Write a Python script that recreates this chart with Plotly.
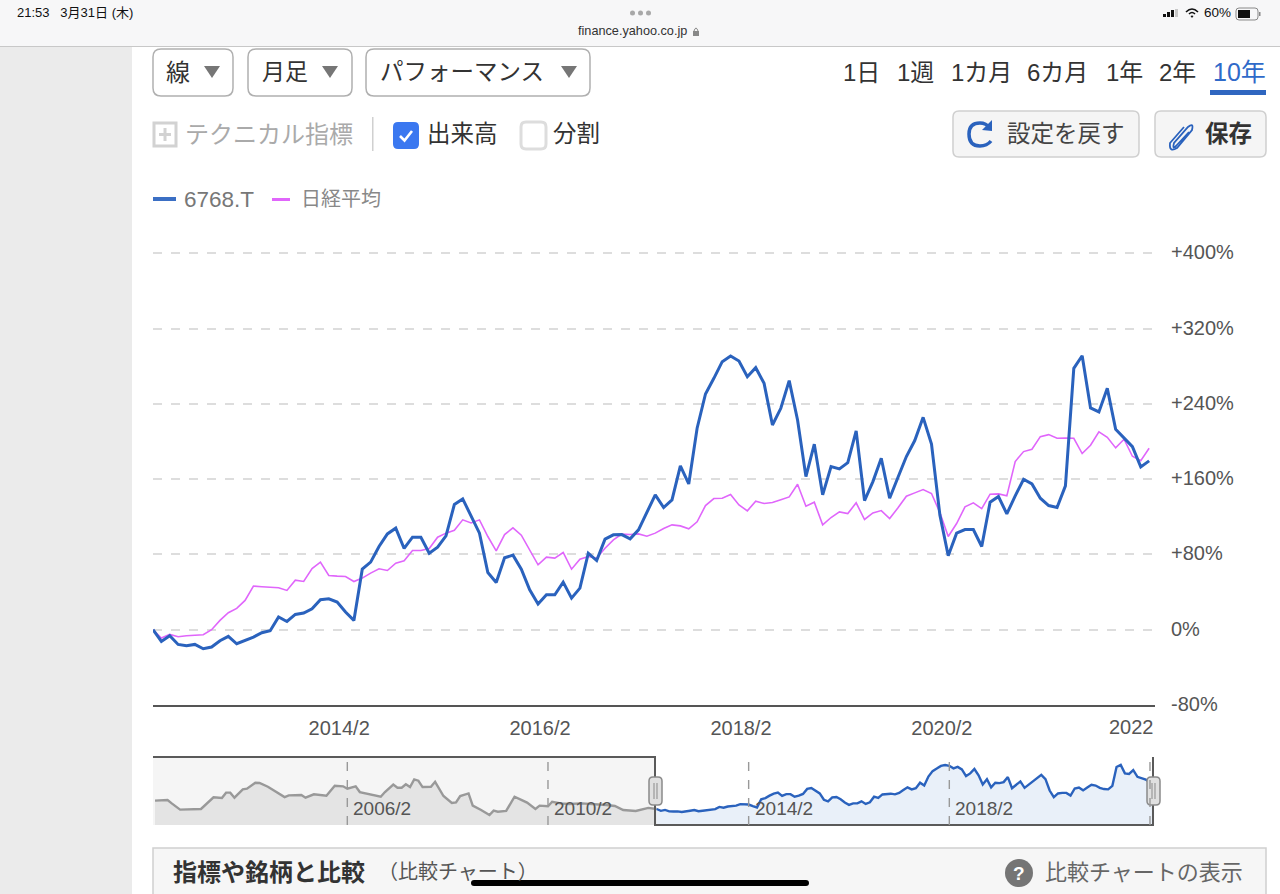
import pandas as pd
import plotly.graph_objects as go

W, H = 1280, 894
JP = "Liberation Sans, Noto Sans CJK JP, sans-serif"

# monthly performance (%), 2012/4 - 2022/3
months = [f"{d.year}/{d.month}" for d in pd.date_range("2012-04-01", periods=120, freq="MS")]
stock_6768 = [0, -12.4, -6.4, -15.6, -17.0, -15.6, -20.2, -18.4, -11.7, -7.1,
              -14.9, -11.3, -7.8, -3.2, -1.1, 13.5, 8.8, 16.3, 17.7, 22.3,
              31.9, 32.9, 29.4, 18.8, 9.9, 64.4, 71.9, 88.5, 101.9, 108.0,
              86.4, 98.4, 98.4, 81.4, 87.8, 99.8, 133.1, 139.1, 121.4, 102.7,
              60.9, 50.3, 76.5, 79.3, 64.4, 42.5, 27.3, 37.2, 37.2, 50.6,
              33.6, 44.2, 81.4, 73.6, 96.3, 100.9, 101.2, 96.6, 106.2, 125.0,
              143.4, 129.9, 138.1, 174.2, 155.0, 214.2, 250.6, 267.3, 285.0, 291.0,
              285.7, 269.0, 278.6, 261.9, 217.7, 235.4, 264.8, 223.0, 162.8, 197.2,
              143.4, 173.5, 171.0, 177.7, 211.3, 137.3, 157.5, 182.3, 139.8, 162.1,
              184.1, 201.1, 225.8, 197.5, 122.1, 78.6, 102.7, 106.5, 106.5, 88.5,
              135.6, 141.6, 123.2, 142.3, 160.0, 155.0, 139.8, 132.0, 129.9, 152.9,
              277.9, 291.3, 235.8, 231.5, 256.6, 213.1, 203.9, 194.7, 173.1, 179.5]
nikkei = [0, -8.8, -5.0, -7.4, -6.4, -6.0, -5.3, 0, 9.9, 18.1,
          22.7, 31.2, 46.4, 45.7, 45.0, 44.6, 41.8, 52.7, 51.3, 65.1,
          71.9, 57.7, 57.0, 56.6, 51.3, 54.9, 60.2, 64.8, 63.0, 70.8,
          73.3, 84.2, 84.2, 86.4, 98.4, 102.7, 105.8, 116.8, 113.6, 116.8,
          99.1, 83.9, 101.2, 108.3, 100.5, 85.0, 69.0, 77.2, 76.1, 82.1,
          64.4, 75.0, 77.9, 76.1, 86.7, 95.6, 101.6, 101.2, 101.9, 99.5,
          102.7, 107.6, 111.5, 110.4, 107.3, 114.7, 132.0, 139.5, 139.8, 143.7,
          132.7, 126.4, 136.6, 134.2, 135.2, 138.1, 141.2, 154.7, 131.3, 135.6,
          111.5, 119.3, 125.3, 123.5, 134.9, 117.2, 124.2, 126.7, 118.2, 129.6,
          141.9, 145.5, 149.0, 144.8, 124.6, 99.1, 112.9, 130.6, 134.9, 128.8,
          144.1, 144.4, 142.3, 178.8, 189.4, 191.9, 205.3, 207.4, 203.5, 203.9,
          203.5, 187.3, 196.1, 210.3, 204.6, 193.3, 202.5, 184.4, 179.8, 192.9]
y_ticks = [-80, 0, 80, 160, 240, 320, 400]
y_labels = ["-80%", "0%", "+80%", "+160%", "+240%", "+320%", "+400%"]
x_ticks = ["2014/2", "2016/2", "2018/2", "2020/2"]

# navigator: older part of the series (month number from 2002/4), same % scale
nav_old_month = [0, 3, 4, 6, 11, 14, 16, 17, 18, 19, 21, 22, 24, 25, 27, 29, 31, 32, 35, 36,
                 38, 41, 43, 45, 46, 48, 49, 54, 55, 57, 58, 59, 60, 61, 62, 63, 64, 66, 67, 69,
                 71, 72, 73, 75, 76, 78, 80, 81, 82, 84, 86, 88, 89, 91, 92, 94, 95, 97, 99, 102,
                 105, 108, 110, 112, 115, 118, 120]
nav_old_val = [55, 59, 37, -4, 0, 77, 73, 108, 108, 75, 130, 134, 174, 172, 147, 114, 79, 90, 92, 75,
               97, 88, 154, 150, 134, 150, 112, 81, 112, 161, 141, 141, 163, 145, 196, 187, 145, 147, 180, 86,
               40, 44, 86, 103, 22, -7, -40, -11, -18, -13, 81, 55, 42, 0, 22, 18, 48, 37, 33, 37,
               33, 26, 20, -7, -13, 7, 0]
nav_ticks = [46, 94, 142, 190, 238]
nav_labels = ["2006/2", "2010/2", "2014/2", "2018/2"]
nav_new_month = list(range(120, 240))
nav_floor = -106


def px(x):
    return x / W


def py(y):
    return 1 - y / H


def label(x, y, text, size=20, color="#333333", anchor="left", bold=False):
    if bold:
        text = f"<b>{text}</b>"
    # annotation boxes pad their text a little
    if anchor == "left":
        x -= 2.5
    return dict(xref="paper", yref="paper", x=px(x), y=py(y), text=text, showarrow=False,
                xanchor=anchor, yanchor="middle", align=anchor,
                font=dict(family=JP, size=size, color=color))


def rect(x0, y0, x1, y1, fill=None, line=None, width=1.5, layer="below"):
    return dict(type="rect", xref="paper", yref="paper", x0=px(x0), x1=px(x1), y0=py(y0), y1=py(y1),
                fillcolor=fill or "rgba(0,0,0,0)", line=dict(color=line or "rgba(0,0,0,0)", width=width if line else 0),
                layer=layer)


def path(points, fill=None, line=None, width=1.5, close=True, layer="above"):
    # points: (x, y) page pixels, or ("Q", cx, cy, x, y) for a curve
    d = ""
    for i, p in enumerate(points):
        if p[0] == "Q":
            d += f"Q{px(p[1]):.5f},{py(p[2]):.5f} {px(p[3]):.5f},{py(p[4]):.5f} "
        else:
            d += f"{'M' if i == 0 else 'L'}{px(p[0]):.5f},{py(p[1]):.5f} "
    if close:
        d += "Z"
    return dict(type="path", xref="paper", yref="paper", path=d, layer=layer,
                fillcolor=fill or "rgba(0,0,0,0)", line=dict(color=line or "rgba(0,0,0,0)", width=width if line else 0))


def rounded(x0, y0, x1, y1, r, fill=None, line=None, width=1.5, layer="above"):
    pts = [(x0 + r, y0), (x1 - r, y0), ("Q", x1, y0, x1, y0 + r), (x1, y1 - r), ("Q", x1, y1, x1 - r, y1),
           (x0 + r, y1), ("Q", x0, y1, x0, y1 - r), (x0, y0 + r), ("Q", x0, y0, x0 + r, y0)]
    return path(pts, fill, line, width, True, layer)


def tri(cx, cy):
    return path([(cx - 8, cy - 6), (cx + 8, cy - 6), (cx, cy + 6)], fill="#767676")


fig = go.Figure()

# main chart
fig.add_trace(go.Scatter(x=months, y=nikkei, mode="lines", name="日経平均", line=dict(color="#e066fb", width=1.6)))
fig.add_trace(go.Scatter(x=months, y=stock_6768, mode="lines", name="6768.T", line=dict(color="#2a62bd", width=3)))

# navigator
fig.add_trace(go.Scatter(x=nav_old_month, y=[nav_floor] * len(nav_old_month), mode="lines", line=dict(width=0),
                         xaxis="x2", yaxis="y2"))
fig.add_trace(go.Scatter(x=nav_old_month, y=nav_old_val, mode="lines", line=dict(color="#999999", width=2.4),
                         fill="tonexty", fillcolor="#e4e4e4", xaxis="x2", yaxis="y2"))
fig.add_trace(go.Scatter(x=nav_new_month, y=[nav_floor] * 120, mode="lines", line=dict(width=0),
                         xaxis="x2", yaxis="y2"))
fig.add_trace(go.Scatter(x=nav_new_month, y=stock_6768, mode="lines", line=dict(color="#2a62bd", width=2.4),
                         fill="tonexty", fillcolor="#e9f0f9", xaxis="x2", yaxis="y2"))

shapes = [
    # page furniture
    rect(0, 47, 132, H, fill="#ebebeb"),
    rect(0, 0, W, 46, fill="#f7f7f8"),
    rect(0, 46, W, 47, fill="#c8c8c8"),
    rect(153, 757, 655, 825, fill="#f5f5f5"),
    # selectors
    rounded(153, 49, 233, 96, 8, line="#b0b0b0"),
    rounded(248, 49, 352, 96, 8, line="#b0b0b0"),
    rounded(366, 49, 590, 96, 8, line="#b0b0b0"),
    tri(212, 72), tri(330, 72), tri(569, 72),
    rect(1210, 90, 1266, 95, fill="#2f66c0"),
    # tools row
    rect(154, 123, 176, 146, line="#d2d2d2", width=3),
    path([(165, 128), (165, 141)], line="#d2d2d2", width=3, close=False),
    path([(159, 134.5), (171, 134.5)], line="#d2d2d2", width=3, close=False),
    rect(372, 117, 373.5, 151, fill="#d0d0d0"),
    rounded(393, 122, 419, 149, 5, fill="#3b78f0"),
    path([(400, 136), (404.5, 140.5), (412, 131)], line="#ffffff", width=2.6, close=False),
    rounded(521, 122, 546, 149, 5, fill="#ffffff", line="#dddddd", width=3),
    rounded(953, 111, 1139, 157, 6, fill="#f5f5f5", line="#cfcfcf"),
    rounded(1155, 111, 1266, 157, 6, fill="#f5f5f5", line="#cfcfcf"),
    # reload icon
    path([(990, 128), ("Q", 986, 123, 980, 123), ("Q", 969, 123, 969, 134), ("Q", 969, 146, 980, 146),
          ("Q", 987, 146, 991, 141)], line="#2a62bd", width=3.5, close=False),
    path([(992, 120), (992, 131), (982, 130)], fill="#2a62bd"),
    # paper clip icon
    path([(1189, 132), (1176, 146), ("Q", 1172, 150, 1174, 143), (1188, 127), ("Q", 1194, 122, 1192, 130),
          (1177, 148), ("Q", 1169, 153, 1170, 143), (1184, 127)], line="#2a62bd", width=1.8, close=False),
    # legend swatches
    rect(153, 197, 176, 201, fill="#3b6fc4"),
    rect(272, 198, 290, 201, fill="#e066fb"),
    # navigator frame
    path([(153, 757), (655, 757), (655, 825), (1153, 825), (1153, 757)], line="#5a5a5a", width=2, close=False),
    rounded(649, 777, 662, 805, 4, fill="#e0e0e0", line="#8a8a8a"),
    rounded(1147, 777, 1160, 805, 4, fill="#e0e0e0", line="#8a8a8a"),
    path([(654, 783), (654, 799)], line="#8a8a8a", width=1, close=False),
    path([(657, 783), (657, 799)], line="#8a8a8a", width=1, close=False),
    path([(1152, 783), (1152, 799)], line="#8a8a8a", width=1, close=False),
    path([(1155, 783), (1155, 799)], line="#8a8a8a", width=1, close=False),
    # compare panel
    rect(153, 848, 1266, 900, fill="#f6f6f6", line="#d0d0d0"),
    dict(type="circle", xref="paper", yref="paper", x0=px(1005), x1=px(1033), y0=py(859), y1=py(887),
         fillcolor="#757575", line=dict(width=0)),
    rounded(471, 880, 809, 886, 3, fill="#000000"),
    # status bar
    rect(1163, 14, 1166, 17, fill="#111111"), rect(1167, 12, 1170, 17, fill="#111111"),
    rect(1171, 10, 1174, 17, fill="#111111"), rect(1175, 9, 1178, 17, fill="#c8c8c8"),
    path([(1186, 12), ("Q", 1192, 6, 1198, 12)], line="#111111", width=1.6, close=False),
    path([(1189, 14), ("Q", 1192, 11, 1195, 14)], line="#111111", width=1.6, close=False),
    path([(1190.5, 16), (1192, 18), (1193.5, 16), ("Q", 1192, 15, 1190.5, 16)], fill="#111111"),
    rounded(1236, 8, 1258, 20, 3, line="#888888", width=1),
    rect(1238, 10, 1250, 18, fill="#111111"),
    rect(1259, 12, 1260.5, 16, fill="#888888"),
    rect(693, 31, 699, 36, fill="#888888"),
    path([(694, 31), ("Q", 696, 25, 698, 31)], line="#888888", width=1, close=False),
    dict(type="circle", xref="paper", yref="paper", x0=px(630), x1=px(635), y0=py(10.5), y1=py(15.5),
         fillcolor="#a8a8a8", line=dict(width=0)),
    dict(type="circle", xref="paper", yref="paper", x0=px(638), x1=px(643), y0=py(10.5), y1=py(15.5),
         fillcolor="#a8a8a8", line=dict(width=0)),
    dict(type="circle", xref="paper", yref="paper", x0=px(646), x1=px(651), y0=py(10.5), y1=py(15.5),
         fillcolor="#a8a8a8", line=dict(width=0)),
]
# navigator year markers sit on top of the filled area
for m in nav_ticks:
    shapes.append(dict(type="line", xref="x2", yref="paper", x0=m, x1=m, y0=py(825), y1=py(757), layer="above",
                       line=dict(color="#999999", width=1.4, dash="dash")))

annotations = [
    label(17, 13, "21:53   3月31日 (木)", 13, "#111111"),
    label(632.5, 31, "finance.yahoo.co.jp", 12.7, "#333333", "center"),
    label(1204, 13, "60%", 13.5, "#111111"),
    label(166, 72, "線", 24, "#333333"),
    label(262, 72, "月足", 23, "#333333"),
    label(380, 72, "パフォーマンス", 23.5, "#333333"),
    label(861, 72, "1日", 24, "#333333", "center"),
    label(915, 72, "1週", 24, "#333333", "center"),
    label(981, 72, "1カ月", 24, "#333333", "center"),
    label(1057, 72, "6カ月", 24, "#333333", "center"),
    label(1124, 72, "1年", 24, "#333333", "center"),
    label(1177, 72, "2年", 24, "#333333", "center"),
    label(1239, 72, "10年", 25, "#2f6ac9", "center"),
    label(185, 134, "テクニカル指標", 24, "#aaaaaa"),
    label(427, 134, "出来高", 23.5, "#333333"),
    label(553, 134, "分割", 23.5, "#333333"),
    label(1007, 134, "設定を戻す", 23.5, "#444444"),
    label(1205, 134, "保存", 23.5, "#333333", bold=True),
    label(184, 199, "6768.T", 22.5, "#777777"),
    label(301, 199, "日経平均", 20, "#888888"),
    label(1156, 727, "2022", 20, "#555555", "right"),
    label(173, 872, "指標や銘柄と比較", 24, "#333333", bold=True),
    label(378, 872, "（比較チャート）", 20, "#555555"),
    label(1019, 873, "?", 19, "#ffffff", "center", bold=True),
    label(1045, 872, "比較チャートの表示", 22, "#666666"),
]
for m, txt in zip(nav_ticks, nav_labels):
    annotations.append(dict(xref="x2", yref="paper", x=m, y=py(808), text=txt, showarrow=False, xanchor="left",
                            xshift=4, yanchor="middle", font=dict(family=JP, size=19, color="#555555")))

fig.update_layout(
    width=W, height=H, autosize=False,
    margin=dict(l=0, r=0, t=0, b=0, autoexpand=False),
    paper_bgcolor="#ffffff", plot_bgcolor="rgba(0,0,0,0)",
    showlegend=False, hovermode=False,
    font=dict(family=JP),
    shapes=shapes, annotations=annotations,
    xaxis=dict(domain=[px(153), px(1155)], type="category", range=[0, 119.7], showgrid=False,
               tickmode="array", tickvals=x_ticks, ticktext=x_ticks, ticks="", ticklabelstandoff=4, ticklabelshift=2,
               tickfont=dict(size=20, color="#555555"), showline=True, linecolor="#555555", linewidth=1.5,
               zeroline=False),
    yaxis=dict(domain=[py(705), py(245)], range=[-80, 409], side="right", tickmode="array",
               tickvals=y_ticks, ticktext=y_labels, tickfont=dict(size=20, color="#555555"),
               ticks="", ticklabelstandoff=15, ticklabelshift=-1,
               showgrid=True, gridcolor="#dddddd", griddash="dash", gridwidth=1.5, zeroline=False),
    xaxis2=dict(domain=[px(153), px(1155)], range=[-0.48, 239.2], anchor="y2", showticklabels=False,
                showgrid=False, zeroline=False, ticks=""),
    yaxis2=dict(domain=[py(825), py(757)], range=[nav_floor, 344], anchor="x2", showticklabels=False,
                showgrid=False, zeroline=False, ticks=""),
)

fig.write_html("out.html", config=dict(displayModeBar=False),
               post_script="document.body.style.margin='0';")
